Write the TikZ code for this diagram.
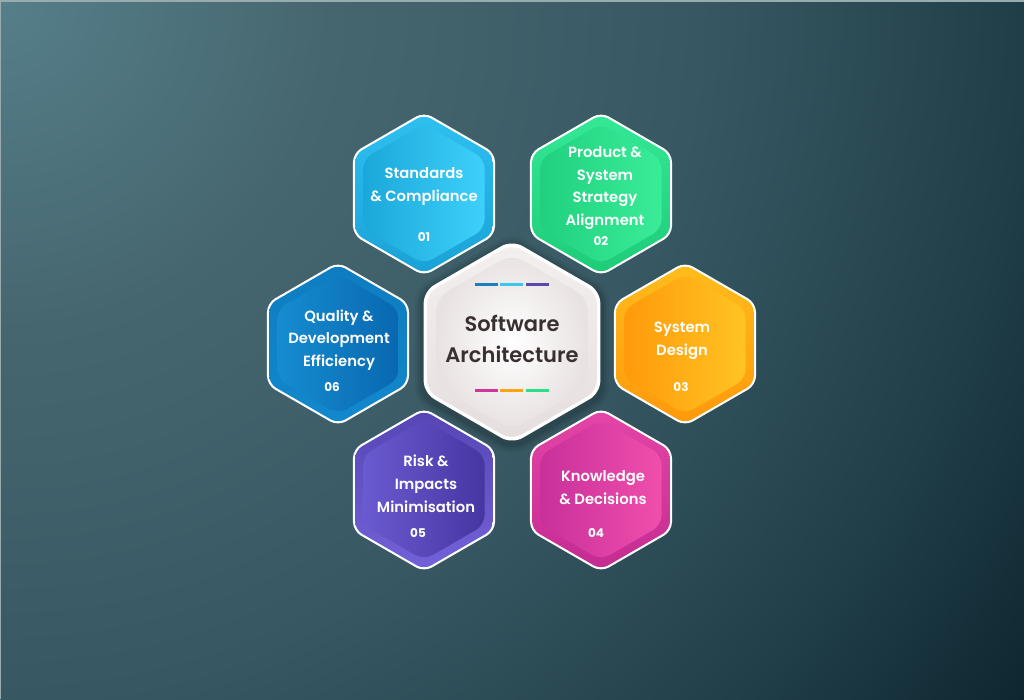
\documentclass[tikz,border=0pt]{standalone}
\usepackage{fontspec}
\setmainfont{Poppins}
\newfontfamily\popmed{Poppins Medium}
\newfontfamily\popsemi{Poppins SemiBold}
\newfontfamily\popbold{Poppins Bold}
\usetikzlibrary{calc}
\definecolor{bgA}{HTML}{557F8A}
\definecolor{bgM}{HTML}{46666F}
\definecolor{bgB}{HTML}{375863}
\definecolor{bgC}{HTML}{203E48}
\definecolor{bgD}{HTML}{0E2630}
\definecolor{edgeLine}{HTML}{9AABAE}
\pgfdeclareradialshading{bgshade}{\pgfpoint{0pt}{0pt}}{%
  color(0pt)=(bgA); color(330pt)=(bgM); color(699pt)=(bgB); color(1024pt)=(bgC);
  color(1240pt)=(bgD); color(1300pt)=(bgD)}
\definecolor{cyA}{HTML}{2EC0F0}\definecolor{cyB}{HTML}{1AA2D6}
\definecolor{cyL}{HTML}{1AA8DA}\definecolor{cyR}{HTML}{3ED0FA}
\definecolor{grA}{HTML}{34E896}\definecolor{grB}{HTML}{1ECC78}
\definecolor{grL}{HTML}{20D07E}\definecolor{grR}{HTML}{3AEC98}
\definecolor{orA}{HTML}{FFBC1C}\definecolor{orB}{HTML}{FF990A}
\definecolor{orL}{HTML}{FF9A0C}\definecolor{orR}{HTML}{FFC422}
\definecolor{pkA}{HTML}{E445A6}\definecolor{pkB}{HTML}{C42C92}
\definecolor{pkL}{HTML}{C8309A}\definecolor{pkR}{HTML}{F04EAC}
\definecolor{puA}{HTML}{5646B4}\definecolor{puB}{HTML}{7262D8}
\definecolor{puL}{HTML}{6A5AD0}\definecolor{puR}{HTML}{4636A2}
\definecolor{blA}{HTML}{0E7CC0}\definecolor{blB}{HTML}{1288CC}
\definecolor{blL}{HTML}{168CD0}\definecolor{blR}{HTML}{0868B0}
\definecolor{ctText}{HTML}{3A3030}
\definecolor{wA}{HTML}{F4F0F0}\definecolor{wB}{HTML}{E6DEDE}
\definecolor{barA}{HTML}{1A7FC0}\definecolor{barB}{HTML}{3BC8F0}\definecolor{barC}{HTML}{5A48B0}
\definecolor{barD}{HTML}{D0359A}\definecolor{barE}{HTML}{FFA515}\definecolor{barF}{HTML}{2EDD8A}
\tikzset{
  x=1pt, y=-1pt,
  lbl/.style={text=white, align=center, inner sep=0pt,
    font=\popsemi\fontsize{14.8}{22.8}\selectfont},
  num/.style={text=white, inner sep=0pt, font=\popbold\fontsize{12}{13}\selectfont},
  bar/.style={line width=3pt},
  pics/cell/.style n args={4}{code={
    \path[fill=white, rounded corners=9pt]
      (90:82) -- (150:82) -- (210:82) -- (270:82) -- (330:82) -- (30:82) -- cycle;
    \path[top color=#1, bottom color=#2, rounded corners=8pt]
      (90:79.5) -- (150:79.5) -- (210:79.5) -- (270:79.5) -- (330:79.5) -- (30:79.5) -- cycle;
    \path[left color=#3, right color=#4, rounded corners=10pt]
      (90:70) -- (150:70) -- (210:70) -- (270:70) -- (330:70) -- (30:70) -- cycle;
  }}
}
\begin{document}
\begin{tikzpicture}
\useasboundingbox (0,0) rectangle (1024,699);
% background
\begin{scope}
  \clip (0,0) rectangle (1024,699);
  \node[inner sep=0pt, outer sep=0pt] (bg) at (0,0) {\pgfuseshading{bgshade}};
  \fill[edgeLine] (0,0) rectangle (1024,2);
  \fill[edgeLine] (0,0) rectangle (1.2,699);
\end{scope}
% center shadow
\foreach \r/\o in {112/0.05,109/0.07,106/0.09}{
  \path[fill=black, fill opacity=\o, rounded corners=12pt]
    ([shift={(512,345)}]90:\r) -- ([shift={(512,345)}]150:\r) -- ([shift={(512,345)}]210:\r)
    -- ([shift={(512,345)}]270:\r) -- ([shift={(512,345)}]330:\r) -- ([shift={(512,345)}]30:\r) -- cycle;
}
% cells
\pic at (424,194) {cell={cyA}{cyB}{cyL}{cyR}};
\pic at (601,194) {cell={grA}{grB}{grL}{grR}};
\pic at (685,344) {cell={orA}{orB}{orL}{orR}};
\pic at (601,490) {cell={pkA}{pkB}{pkL}{pkR}};
\pic at (424,490) {cell={puA}{puB}{puL}{puR}};
\pic at (338,344) {cell={blA}{blB}{blL}{blR}};
% center hexagon
\path[fill=white, rounded corners=12pt]
  ([shift={(512,342)}]90:102) -- ([shift={(512,342)}]150:102) -- ([shift={(512,342)}]210:102)
  -- ([shift={(512,342)}]270:102) -- ([shift={(512,342)}]330:102) -- ([shift={(512,342)}]30:102) -- cycle;
\path[top color=wA, bottom color=wB, rounded corners=11pt]
  ([shift={(512,342)}]90:98) -- ([shift={(512,342)}]150:98) -- ([shift={(512,342)}]210:98)
  -- ([shift={(512,342)}]270:98) -- ([shift={(512,342)}]330:98) -- ([shift={(512,342)}]30:98) -- cycle;
\path[inner color=white, outer color=wB!80!wA, rounded corners=14pt]
  ([shift={(512,342)}]90:88) -- ([shift={(512,342)}]150:88) -- ([shift={(512,342)}]210:88)
  -- ([shift={(512,342)}]270:88) -- ([shift={(512,342)}]330:88) -- ([shift={(512,342)}]30:88) -- cycle;
% bars
\draw[bar, barA] (475,284) -- (498,284);
\draw[bar, barB] (500,284) -- (523,284);
\draw[bar, barC] (526,284) -- (549,284);
\draw[bar, barD] (475,390) -- (498,390);
\draw[bar, barE] (500,390) -- (523,390);
\draw[bar, barF] (526,390) -- (549,390);
% texts
\node[align=center, inner sep=0pt, text=ctText, font=\popsemi\fontsize{21}{31}\selectfont]
  (ct) at (512,339) {Software\\Architecture};
\node[lbl] (t1) at (424,186.5) {Standards\\\& Compliance};
\node[num] (n1) at (424,237) {01};
\node[lbl] (t2) at (605,188) {Product \&\\System\\Strategy\\Alignment};
\node[num] (n2) at (601,241) {02};
\node[lbl] (t3) at (682,340.5) {System\\Design};
\node[num] (n3) at (681,387) {03};
\node[lbl] (t4) at (603,488) {Knowledge\\\& Decisions};
\node[num] (n4) at (596,533) {04};
\node[lbl] (t5) at (426,484) {Risk \&\\Impacts\\Minimisation};
\node[num] (n5) at (418,533) {05};
\node[lbl] (t6) at (339,340) {Quality \&\\Development\\Efficiency};
\node[num] (n6) at (332,387) {06};
\end{tikzpicture}
\end{document}
